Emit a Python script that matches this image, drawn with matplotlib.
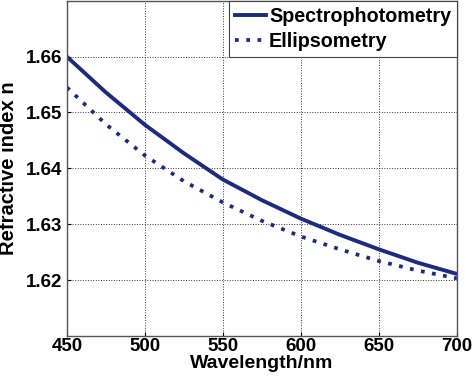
import numpy as np
import matplotlib
matplotlib.use("Agg")
import matplotlib.pyplot as plt

# values
wavelength = [450, 475, 500, 525, 550, 575, 600, 625, 650, 675, 700]
n_spectro = [1.6600, 1.6536, 1.6478, 1.6427, 1.6380, 1.6343, 1.6310, 1.6281, 1.6255, 1.6231, 1.6211]
n_ellipso = [1.6545, 1.6479, 1.6423, 1.6377, 1.6339, 1.6306, 1.6278, 1.6255, 1.6234, 1.6217, 1.6203]

xticks = [450, 500, 550, 600, 650, 700]
yticks = [1.62, 1.63, 1.64, 1.65, 1.66]

plt.rcParams['font.family'] = ['Liberation Sans', 'DejaVu Sans']
plt.rcParams['font.weight'] = 'bold'

navy = '#1c2a80'

fig = plt.figure(figsize=(4.74, 3.8), dpi=100)
ax = fig.add_axes([0.141, 0.116, 0.823, 0.882])

ax.plot(wavelength, n_spectro, color=navy, lw=2.8, label='Spectrophotometry')
ax.plot(wavelength, n_ellipso, color=navy, lw=2.7, linestyle=(0, (1, 2.0)), label='Ellipsometry')

ax.set_xlim(450, 700)
ax.set_ylim(1.61, 1.67)
ax.set_xticks(xticks)
ax.set_yticks(yticks)
ax.set_yticklabels([f'{v:.2f}' for v in yticks])
ax.tick_params(direction='in', length=3, labelsize=13.5)
ax.tick_params(axis='x', pad=1.5)
ax.tick_params(axis='y', pad=3)
for lab in ax.get_xticklabels() + ax.get_yticklabels():
    lab.set_fontweight('bold')

ax.grid(True, color='#333333', linestyle=':', linewidth=0.7)
for sp in ax.spines.values():
    sp.set_color('#555555')
    sp.set_linewidth(1.0)

ax.set_xlabel('Wavelength/nm', fontsize=14, fontweight='bold', labelpad=0)
ax.set_ylabel('Refractive index n', fontsize=14.5, fontweight='bold')
ax.yaxis.set_label_coords(-0.125, 0.5)

leg = ax.legend(loc='upper right', borderaxespad=0, fancybox=False, edgecolor='#444444',
                framealpha=1, prop={'size': 14.2, 'weight': 'bold'},
                handlelength=1.55, handletextpad=0.15, borderpad=0.3, labelspacing=0.3)
leg.get_frame().set_linewidth(0.8)

fig.savefig('out.png', dpi=100)
